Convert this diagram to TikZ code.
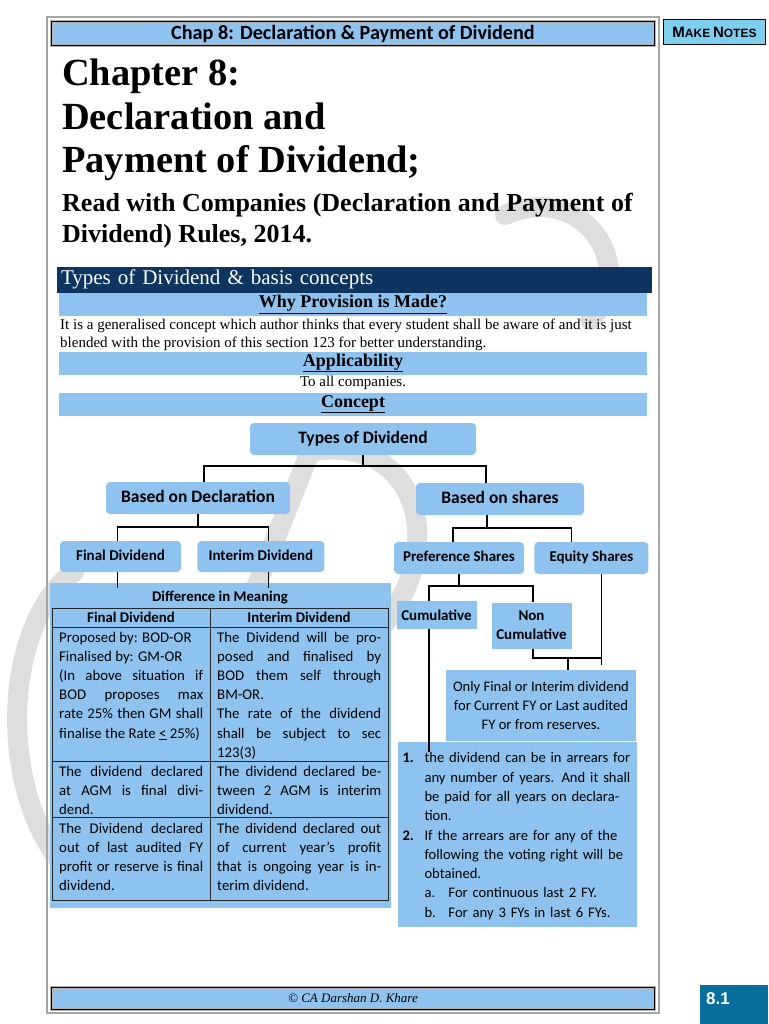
\documentclass[tikz,border=0pt]{standalone}
\usepackage{fontspec}
\setmainfont{Liberation Serif}
\setsansfont{Carlito}
\newfontfamily\tabfont{Liberation Sans}
\usetikzlibrary{positioning,calc}

\definecolor{barblue}{RGB}{142,195,240}
\definecolor{navyblue}{RGB}{14,52,96}
\definecolor{notecyan}{RGB}{126,206,238}
\definecolor{pagetab}{RGB}{8,110,158}
\definecolor{wmgray}{RGB}{222,222,222}

% justified cell text
\newcommand\celltext[2]{\parbox[t]{#1}{\tolerance=9999\strut #2}}

\tikzset{
  secbar/.style={fill=barblue, minimum width=588pt, minimum height=23pt, inner sep=0pt,
    font=\bfseries\fontsize{18}{20}\selectfont},
  treebox/.style={fill=barblue, rounded corners=4pt, inner sep=0pt,
    text height=12pt, text depth=3.5pt,
    font=\sffamily\bfseries\fontsize{17.5}{20}\selectfont},
  leafbox/.style={treebox, text height=10.5pt, text depth=3pt,
    font=\sffamily\bfseries\fontsize{15}{18}\selectfont},
  flatbox/.style={fill=barblue, inner sep=0pt, align=center,
    font=\sffamily\bfseries\fontsize{15}{19.3}\selectfont},
  cell/.style={anchor=north west, inner sep=0pt,
    font=\sffamily\fontsize{14.8}{19.1}\selectfont},
  link/.style={line width=1.6pt, black},
  wmark/.style={line width=20pt, wmgray, line cap=round},
  rule/.style={line width=0.9pt, black!85}
}

\begin{document}
\begin{tikzpicture}[x=1pt,y=-1pt]
\useasboundingbox (0,0) rectangle (768,1024);

% watermark
\draw[wmark] (74,572) .. controls (2,625) and (-2,790) .. (64,866);
\draw[wmark] (215,690) -- (310,452);
\draw[wmark] (310,452) .. controls (420,430) and (460,560) .. (360,650);
\draw[wmark] (505,215) .. controls (585,180) and (640,270) .. (590,320);

% page frame
\draw[gray!70, line width=2pt] (47,17) rectangle (659,1013);

% header
\node[fill=barblue, minimum width=602pt, minimum height=23pt, inner sep=0pt,
      font=\sffamily\bfseries\fontsize{20.2}{22}\selectfont] (hdr) at (353,33.5)
  {Chap 8: Declaration \& Payment of Dividend};
\draw[gray!60, line width=3pt] (hdr.north west) rectangle (hdr.south east);
\draw[line width=1.3pt] (hdr.north west) rectangle (hdr.south east);

\node[fill=notecyan, draw=black, line width=1.3pt, minimum width=102pt,
      minimum height=25pt, inner sep=0pt, font=\tabfont\bfseries] (mkn) at (714.5,32)
  {{\fontsize{15}{16}\selectfont M}{\fontsize{12}{12}\selectfont AKE}
   {\fontsize{15}{16}\selectfont N}{\fontsize{12}{12}\selectfont OTES}};

% title
\node[anchor=base west, inner sep=0pt, font=\bfseries\fontsize{38.4}{44}\selectfont]
  (ttla) at (62,86) {Chapter 8:};
\node[anchor=base west, inner sep=0pt, font=\bfseries\fontsize{38.4}{44}\selectfont]
  (ttlb) at (62,130) {Declaration and};
\node[anchor=base west, inner sep=0pt, font=\bfseries\fontsize{38.4}{44}\selectfont]
  (ttlc) at (62,173) {Payment of Dividend;};
\node[anchor=base west, inner sep=0pt, font=\bfseries\fontsize{26}{30}\selectfont]
  (suba) at (62,212) {Read with Companies (Declaration and Payment of};
\node[anchor=base west, inner sep=0pt, font=\bfseries\fontsize{26}{30}\selectfont]
  (subb) at (62,243) {Dividend) Rules, 2014.};

% section bars
\node[fill=navyblue, text=white, text width=587pt, inner xsep=4pt, inner ysep=0pt,
      minimum height=26pt, align=left, font=\fontsize{21}{24}\selectfont]
  (tds) at (354.5,279.5) {Types of Dividend \& basis concepts};
\node[secbar] (why) at (353,304.5) {\underline{Why Provision is Made?}};
\node[anchor=north west, inner sep=0pt, align=left, font=\fontsize{15}{18}\selectfont]
  (whytxt) at (60,318.5)
  {It is a generalised concept which author thinks that every student shall be aware of and it is just\\
   blended with the provision of this section 123 for better understanding.};
\node[secbar] (app) at (353,363) {\underline{Applicability}};
\node[font=\fontsize{15}{18}\selectfont, inner sep=0pt] (apptxt) at (353,383) {To all companies.};
\node[secbar] (cpt) at (353,404) {\underline{Concept}};

% tree
\node[treebox, minimum width=226pt, minimum height=32pt] (tod) at (363,439) {Types of Dividend};
\node[treebox, minimum width=184pt, minimum height=32pt] (bod) at (198,498) {Based on Declaration};
\node[treebox, minimum width=168pt, minimum height=32pt] (bos) at (500,499) {Based on shares};
\node[leafbox, minimum width=121pt, minimum height=31pt] (fdv) at (120.5,556.5) {Final Dividend};
\node[leafbox, minimum width=127pt, minimum height=31pt, right=16pt of fdv] (idv) {Interim Dividend};
\node[leafbox, minimum width=130pt, minimum height=32pt] (prf) at (459,558) {Preference Shares};
\node[leafbox, minimum width=114pt, minimum height=32pt, right=10pt of prf] (eqt) {Equity Shares};

\node[flatbox, minimum width=80pt, minimum height=28pt] (cum) at (436.5,615) {Cumulative};
\node[flatbox, minimum width=80pt, minimum height=46pt] (ncm) at (531.5,625.5) {Non\\Cumulative};
\node[fill=barblue, minimum width=190pt, minimum height=71pt, inner sep=0pt, align=center,
      font=\sffamily\fontsize{14.6}{19.3}\selectfont] (onl) at (541,705.5)
  {Only Final or Interim dividend\\for Current FY or Last audited\\FY or from reserves.};
\node[fill=barblue, minimum width=239pt, minimum height=185pt, text width=229pt,
      inner sep=0pt, font=\sffamily\fontsize{14.6}{19.3}\selectfont]
  (lst) at (517,834.5)
  {\strut\hangindent=22pt\hangafter=1\makebox[22pt][l]{\textbf{1.}}the dividend can be in arrears for\newline
   any number of years. And it shall\newline be paid for all years on declara-\newline tion.\par
   \hangindent=22pt\hangafter=1\makebox[22pt][l]{\textbf{2.}}If the arrears are for any of the\newline
   following the voting right will be\newline obtained.\par
   \hspace*{22pt}\makebox[24pt][l]{a.}For continuous last 2 FY.\par
   \hspace*{22pt}\makebox[24pt][l]{b.}For any 3 FYs in last 6 FYs.};

% difference table
\node[fill=barblue, minimum width=341pt, minimum height=325pt, inner sep=0pt] (tbl) at (220.5,745.5) {};
\draw[rule] (52,608) rectangle (388,900);
\draw[rule] (210,608) -- (210,900);
\foreach \yy in {627,761,817}
  \draw[rule] (52,\yy) -- (388,\yy);
\node[font=\sffamily\bfseries\fontsize{14.8}{18}\selectfont, inner sep=0pt] (dim) at (220,598) {Difference in Meaning};
\node[font=\sffamily\bfseries\fontsize{14.8}{18}\selectfont, inner sep=0pt] (hfd) at (131,617.5) {Final Dividend};
\node[font=\sffamily\bfseries\fontsize{14.8}{18}\selectfont, inner sep=0pt] (hid) at (299,617.5) {Interim Dividend};

\node[cell] (caa) at (59,629)
  {\celltext{144pt}{Proposed by: BOD-OR\newline Finalised by: GM-OR\newline (In above situation if\linebreak
   BOD proposes max\linebreak rate 25\% then GM shall\linebreak finalise the Rate \underline{<} 25\%)}};
\node[cell] (cab) at (217,629)
  {\celltext{164pt}{The Dividend will be pro-\linebreak posed and finalised by\linebreak BOD them self through\linebreak
   BM-OR.\newline The rate of the dividend\linebreak shall be subject to sec\linebreak 123(3)}};
\node[cell] (cba) at (59,763)
  {\celltext{144pt}{The dividend declared\linebreak at AGM is final divi-\linebreak dend.}};
\node[cell] (cbb) at (217,763)
  {\celltext{164pt}{The dividend declared be-\linebreak tween 2 AGM is interim\linebreak dividend.}};
\node[cell] (cca) at (59,819.5)
  {\celltext{144pt}{The Dividend declared\linebreak out of last audited FY\linebreak profit or reserve is final\linebreak dividend.}};
\node[cell] (ccb) at (217,819.5)
  {\celltext{164pt}{The dividend declared out\linebreak of current year’s profit\linebreak that is ongoing year is in-\linebreak terim dividend.}};

% connectors
\draw[link] (tod.south) -- ++(0,11) coordinate (tj) -| ([xshift=6pt]bod.north);
\draw[link] (tj) -| ([xshift=-14pt]bos.north);
\draw[link] (bod.south) -- ++(0,13) coordinate (bj) -| ([xshift=-3pt]fdv.north);
\draw[link] (bj) -| ([xshift=7.5pt]idv.north);
\draw[link] ([xshift=-13pt]bos.south) -- ++(0,13) coordinate (sj) -| ([xshift=-6pt]prf.north);
\draw[link] (sj) -| ([xshift=-20pt]eqt.north);
\draw[link] ([xshift=-3pt]fdv.south) -- ++(0,16);
\draw[link] ([xshift=7.5pt]idv.south) -- ++(0,16);
\draw[link] (prf.south) -- ++(0,12) coordinate (pj) -| ([xshift=-7.5pt]cum.north);
\draw[link] (pj) -| ([xshift=1.5pt]ncm.north);
\draw[link] ([xshift=-7.5pt]cum.south) -- ++(0,123);
\draw[link] ([xshift=10pt]eqt.south) -- ++(0,91);
\draw[link] ([xshift=1.5pt]ncm.south) -- ++(0,9) coordinate (nj) -- ++(68,0);
\draw[link] ([xshift=27pt]onl.north) -- ++(0,-12);

% footer
\node[fill=barblue, minimum width=602pt, minimum height=21pt, inner sep=0pt,
      font=\itshape\fontsize{13}{15}\selectfont] (ftr) at (353,998.5) {\copyright\ CA Darshan D. Khare};
\draw[gray!60, line width=3pt] (ftr.north west) rectangle (ftr.south east);
\draw[line width=1.3pt] (ftr.north west) rectangle (ftr.south east);

\node[fill=pagetab, minimum width=68pt, minimum height=39pt, inner sep=0pt, anchor=north west] (pgn) at (700,985) {};
\node[anchor=base west, inner sep=0pt, text=white, font=\tabfont\bfseries\fontsize{17}{20}\selectfont]
  (pgt) at (706,1004) {8.1};
\end{tikzpicture}
\end{document}
